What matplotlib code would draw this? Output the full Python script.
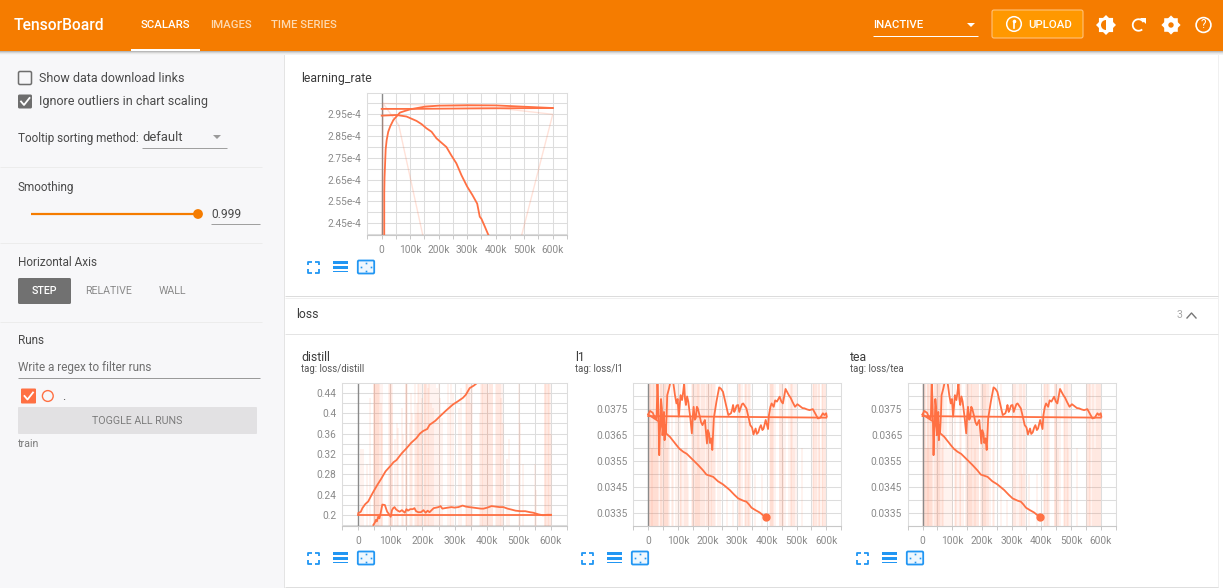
import matplotlib
matplotlib.use("Agg")
import matplotlib.pyplot as plt
from matplotlib.patches import Rectangle, FancyBboxPatch, Circle, Arc, Polygon, RegularPolygon, Wedge

W, H = 1223, 588
plt.rcParams['font.family'] = ['Roboto', 'DejaVu Sans']

# ---------- data (steps in thousands) ----------
lr_rise_x = [9, 9, 10, 12, 14, 17.5, 23, 30, 41, 64, 80, 100, 150, 200, 300, 400, 500, 600]
lr_rise_y = [2.39, 2.588, 2.66, 2.725, 2.79, 2.832, 2.87, 2.895, 2.924, 2.958, 2.965, 2.973, 2.985, 2.99, 2.992, 2.991, 2.985, 2.979]
lr_fall_x = [0, 52, 87, 122, 140, 157, 175, 192, 205, 227, 245, 262, 280, 300, 318, 335, 344, 350, 360, 373, 385]
lr_fall_y = [2.944, 2.947, 2.94, 2.92, 2.905, 2.886, 2.87, 2.84, 2.825, 2.80, 2.76, 2.725, 2.67, 2.618, 2.58, 2.54, 2.48, 2.47, 2.44, 2.40, 2.37]
lr_flat_x = [0, 100, 300, 600]
lr_flat_y = [2.975, 2.975, 2.977, 2.979]
lr_raw_x = [0, 5, 60, 145, 490, 600, 400, 5]
lr_raw_y = [2.3, 3.0, 2.9, 2.39, 2.39, 2.95, 2.98, 3.0]

distill_rise_x = [0, 8, 13, 22, 31, 40, 47, 60, 72, 85, 98, 110, 119, 135, 150, 165, 181, 192, 202, 215, 222, 240, 253, 275, 295, 310, 326, 335, 347, 360, 372]
distill_rise_y = [.204, .207, .214, .222, .227, .238, .246, .260, .272, .286, .295, .304, .308, .321, .331, .342, .351, .360, .365, .369, .377, .385, .393, .406, .417, .423, .430, .436, .449, .454, .460]
distill_wave_x = [47, 52, 55, 58, 62, 66, 70, 75, 83, 90, 95, 101, 105, 109, 113, 117, 123, 129, 136, 145, 150, 155, 162, 170, 175, 180, 187, 195, 203, 210, 216, 222, 230, 235, 243, 250, 256, 262, 270, 280, 290, 300, 312, 325, 335, 345, 358, 370, 382, 390, 402, 415, 428, 440, 452, 465, 478, 490, 505, 520, 535, 545, 560, 575, 588, 600]
distill_wave_y = [.181, .186, .191, .188, .197, .194, .205, .221, .22, .207, .203, .197, .21, .214, .216, .212, .209, .207, .21, .205, .212, .209, .212, .212, .214, .208, .206, .206, .21, .205, .209, .206, .211, .214, .215, .216, .218, .213, .214, .215, .216, .215, .216, .219, .217, .216, .215, .214, .213, .213, .215, .218, .217, .216, .216, .213, .211, .209, .208, .208, .206, .205, .202, .200, .201, .201]
distill_flat_x = [0, 600]
distill_flat_y = [.2, .2]
distill_spike_x = [10, 15, 28, 36, 48, 50, 52, 55, 58, 62, 66, 70, 74, 95, 98, 102, 106, 115, 120, 124, 135, 140, 148, 150, 153, 160, 164, 168, 178, 182, 186, 190, 194, 198, 204, 208, 212, 216, 220, 225, 232, 245, 250, 255, 262, 280, 285, 290, 296, 315, 320, 335, 340, 345, 350, 380, 386, 390, 394, 400, 405, 410, 415, 430, 435, 440, 445, 450, 462, 470, 500, 504, 512, 550, 555, 580, 585, 590, 595, 600]
distill_spike_y = [.33, .33, .30, .43, .47, .47, .47, .47, .47, .47, .47, .42, .38, .47, .47, .47, .42, .35, .38, .37, .41, .36, .47, .47, .47, .38, .44, .40, .47, .42, .47, .47, .47, .43, .47, .47, .47, .45, .47, .42, .41, .45, .47, .43, .39, .47, .42, .47, .44, .41, .45, .47, .47, .45, .42, .40, .47, .47, .47, .47, .44, .47, .47, .47, .47, .47, .43, .38, .31, .35, .47, .38, .30, .30, .25, .47, .47, .47, .47, .36]
distill_band_start = [50, 98, 176, 205, 336, 378, 429, 577]
distill_band_end = [78, 109, 200, 243, 357, 419, 450, 600]
distill_band_top = [.47, .47, .40, .47, .47, .47, .47, .47]

l1_fall_x = [0, 40, 56, 73, 95, 105, 118, 130, 146, 168, 185, 196, 219, 235, 252, 275, 290, 303, 320, 331, 340, 348, 362, 376, 396]
l1_fall_y = [37.3, 37.0, 36.61, 36.44, 36.12, 35.98, 35.86, 35.78, 35.6, 35.35, 35.14, 34.98, 34.89, 34.72, 34.6, 34.38, 34.2, 34.06, 33.97, 33.93, 33.82, 33.7, 33.6, 33.51, 33.32]
l1_flat_x = [0, 600]
l1_flat_y = [37.24, 37.18]
l1_noisy_x = [0, 6, 15, 22, 28, 31, 34, 37, 39, 41, 43, 46, 48, 50, 53, 55, 57, 59, 62, 64, 70, 75, 84, 90, 95, 99, 103, 109, 114, 118, 121, 124, 127, 131, 135, 142, 147, 150, 153, 157, 160, 164, 167, 174, 178, 183, 187, 191, 198, 201, 205, 208, 212, 216, 221, 230, 239, 245, 252, 261, 270, 279, 283, 286, 290, 293, 298, 303, 307, 311, 316, 320, 331, 338, 344, 350, 355, 362, 366, 371, 376, 380, 385, 389, 396, 404, 407, 412, 416, 423, 428, 434, 443, 449, 454, 463, 474, 480, 486, 495, 503, 510, 520, 527, 535, 544, 555, 565, 572, 580, 589, 594, 600, 602]
l1_noisy_y = [37.31, 37.44, 37.37, 37.18, 37.15, 38.57, 37.67, 35.73, 36.6, 36.89, 37.9, 37.54, 36.5, 36.76, 37.4, 36.31, 36.9, 36.57, 37.3, 38.05, 38.31, 38.57, 38.57, 38.05, 37.73, 37.9, 37.22, 38.05, 37.86, 38.2, 38.51, 37.9, 37.67, 38.0, 37.80, 37.15, 36.57, 37.2, 37.60, 37.1, 37.15, 37.6, 37.54, 37.22, 37.0, 36.89, 37.0, 37.09, 36.18, 36.7, 36.57, 36.2, 36.38, 35.93, 37.15, 37.80, 38.35, 38.3, 38.18, 37.73, 37.28, 37.35, 37.5, 37.67, 37.4, 37.47, 37.65, 37.67, 37.4, 37.54, 37.7, 37.73, 37.54, 37.2, 36.89, 36.8, 36.53, 36.76, 36.55, 36.61, 36.8, 36.89, 36.7, 36.76, 37.09, 36.74, 37.28, 37.6, 37.73, 37.60, 37.85, 37.80, 37.99, 37.8, 37.73, 38.29, 38.05, 37.95, 37.80, 37.60, 37.7, 37.64, 37.55, 37.54, 37.5, 37.47, 37.51, 37.3, 37.15, 37.18, 37.35, 37.28, 37.35, 37.22]
l1_spike_x = [2, 5, 8, 11, 14, 17, 20, 23, 26, 29, 32, 40, 44, 48, 52, 56, 60, 64, 68, 80, 85, 92, 100, 108, 112, 125, 130, 135, 148, 152, 156, 160, 164, 168, 172, 176, 180, 188, 196, 202, 206, 210, 214, 222, 236, 242, 265, 285, 305, 310, 325, 330, 335, 340, 360, 385, 410, 414, 418, 422, 445, 450, 455, 475, 480, 485, 490, 520, 555, 560, 565, 575, 580, 585, 590, 596]
l1_spike_y = [39, 39, 39, 36, 36, 39, 39, 36, 39, 39, 39, 39, 39, 39, 39, 39, 39, 36, 39, 39, 36, 39, 39, 39, 36, 39, 39, 35, 39, 39, 39, 35, 39, 39, 39, 36, 39, 39, 39, 39, 39, 39, 39, 39, 36, 39, 39, 34, 39, 39, 39, 39, 35, 39, 35, 35, 39, 39, 39, 39, 39, 39, 36, 39, 39, 39, 36, 36, 39, 39, 39, 39, 36, 39, 39, 39]
l1_band_start = [0, 40, 108, 147, 196, 303, 325, 410, 442, 477, 555, 585]
l1_band_end = [35, 75, 130, 190, 230, 320, 347, 430, 465, 500, 580, 600]
l1_band_top = [39, 39, 36, 39, 39, 39, 39, 39, 39, 39, 39, 39]

lr_ticks = [2.45, 2.55, 2.65, 2.75, 2.85, 2.95]
distill_ticks = [.2, .24, .28, .32, .36, .4, .44]
l1_ticks = [33.5, 34.5, 35.5, 36.5, 37.5]
step_ticks = [0, 100, 200, 300, 400, 500, 600]

# ---------- colours ----------
ORANGE = '#f57c00'
LINE = '#ff7043'
BLUE = '#2196f3'
SIDE = '#f7f7f9'
TXT = '#3a3a3a'
GREY = '#8a8a8a'
LW = 1.3

fig = plt.figure(figsize=(W / 100, H / 100), dpi=100, facecolor='white')
ui = fig.add_axes([0, 0, 1, 1], zorder=0)
ui.set_xlim(0, W)
ui.set_ylim(H, 0)
ui.axis('off')


def box(x0, y0, x1, y1, color, z=1, **kw):
    ui.add_patch(Rectangle((x0, y0), x1 - x0, y1 - y0, facecolor=color, edgecolor='none', zorder=z, **kw))


def label(x, y, s, px=13, color=TXT, ha='left', weight='normal', z=5):
    ui.text(x, y + 1, s, fontsize=px * 0.72, color=color, ha=ha, va='center', fontweight=weight, zorder=z)


def hline(x0, x1, y, color, lw=1.0, z=3):
    ui.plot([x0, x1], [y, y], color=color, lw=lw * 0.72, solid_capstyle='butt', zorder=z)


# ---------- page frame ----------
box(0, 51, 284, H, SIDE)
box(284, 51, 285, H, '#e4e4e4')
box(0, 0, W, 51, ORANGE, z=4)
for i, c in enumerate(['#b9b9b9', '#d4d4d4', '#e8e8e8', '#f3f3f3']):
    box(0, 51 + i, W, 52 + i, c, z=3)

# header
label(14, 25, 'TensorBoard', 15.6, 'white', weight='medium')
label(141, 24.5, 'SCALARS', 11.4, 'white', weight='medium')
label(210, 24.5, 'IMAGES', 11.4, '#fdd9b0', weight='medium')
label(271, 24.5, 'TIME SERIES', 11.4, '#fdd9b0', weight='medium')
box(131, 49, 200, 51, 'white', z=6)
label(873, 24.5, 'INACTIVE', 11.4, 'white', weight='medium')
ui.add_patch(Polygon([[967, 23], [975, 23], [971, 27]], fc='white', ec='none', zorder=6))
hline(873, 978, 35.5, 'white', 1, z=6)
ui.add_patch(FancyBboxPatch((992, 10), 91, 28, boxstyle='round,pad=0,rounding_size=2', fc='#ff9800', ec='#ffc27a', lw=0.8, zorder=5))
ui.add_patch(Circle((1014, 24), 7.3, fc='none', ec='white', lw=1.1, zorder=6))
ui.plot([1014, 1014], [23, 28], color='white', lw=1.2, zorder=6)
ui.plot([1014], [20.6], 'o', ms=1.6, color='white', zorder=6)
label(1028, 23.5, 'UPLOAD', 11.4, 'white', weight='medium', z=6)
# theme icon
ui.add_patch(RegularPolygon((1106, 25), 4, radius=10, orientation=0, fc='white', ec='none', zorder=6))
ui.add_patch(RegularPolygon((1106, 25), 4, radius=10, orientation=0.785, fc='white', ec='none', zorder=6))
ui.add_patch(Wedge((1106, 25), 5, 90, 270, fc=ORANGE, ec='none', zorder=7))
# refresh
ui.add_patch(Arc((1138.5, 25), 11.5, 11.5, theta1=-310, theta2=-30, ec='white', lw=1.3, zorder=6))
ui.add_patch(Polygon([[1140, 18], [1145.5, 18], [1145.5, 23.5]], fc='white', ec='none', zorder=6))
# gear
ui.add_patch(RegularPolygon((1171, 25), 4, radius=9.6, orientation=0, fc='white', ec='none', zorder=6))
ui.add_patch(RegularPolygon((1171, 25), 4, radius=9.6, orientation=0.785, fc='white', ec='none', zorder=6))
ui.add_patch(Circle((1171, 25), 6.8, fc='white', ec='none', zorder=6))
ui.add_patch(Circle((1171, 25), 2.7, fc=ORANGE, ec='none', zorder=7))
# help
ui.add_patch(Circle((1203.5, 25), 7.4, fc='none', ec='white', lw=1.2, zorder=6))
ui.text(1203.5, 25, '?', fontsize=8.5, color='white', ha='center', va='center', zorder=6)

# sidebar
ui.add_patch(FancyBboxPatch((18.5, 71.5), 13, 13, boxstyle='round,pad=0,rounding_size=1.5', fc='none', ec='#6e6e6e', lw=1.1, zorder=5))
label(39, 78, 'Show data download links', 12.5, '#4a4a4a')
ui.add_patch(FancyBboxPatch((18, 94.5), 14, 14, boxstyle='round,pad=0,rounding_size=1.5', fc='#6e6e6e', ec='none', zorder=5))
ui.plot([21, 24, 29.5], [101.5, 105, 98], color='white', lw=1.3, zorder=6)
label(39, 101, 'Ignore outliers in chart scaling', 12.5, '#4a4a4a')
label(18, 137.5, 'Tooltip sorting method:', 11.7, '#4a4a4a')
label(142, 136.5, 'default', 13, '#4a4a4a')
ui.add_patch(Polygon([[213, 135], [221, 135], [217, 139]], fc='#9a9a9a', ec='none', zorder=5))
hline(142, 227, 147.5, '#a0a0a0')
hline(0, 262, 167, '#ececec')
label(18, 186.5, 'Smoothing', 11.7, '#4a4a4a')
hline(31, 198, 214, ORANGE, 2.2)
ui.add_patch(Circle((198, 214), 4.9, fc=ORANGE, ec='none', zorder=5))
label(211, 213, '0.999', 12, '#4a4a4a')
hline(211, 260, 223.5, '#a0a0a0')
hline(0, 262, 243, '#ececec')
label(18, 262, 'Horizontal Axis', 11.7, '#4a4a4a')
ui.add_patch(FancyBboxPatch((18, 278), 53, 26, boxstyle='round,pad=0,rounding_size=1.5', fc='#717171', ec='none', zorder=4))
label(44.5, 290, 'STEP', 10.6, 'white', ha='center', weight='medium')
label(108.5, 290, 'RELATIVE', 10.6, '#8a8a8a', ha='center')
label(172, 290, 'WALL', 10.6, '#8a8a8a', ha='center')
hline(0, 262, 321.5, '#ececec')
label(18, 340, 'Runs', 11.7, '#4a4a4a')
label(18, 366, 'Write a regex to filter runs', 11.7, '#6f6f6f')
hline(18, 260, 377.5, '#9a9a9a')
ui.add_patch(FancyBboxPatch((21, 388.5), 15, 15, boxstyle='round,pad=0,rounding_size=1', fc=LINE, ec='none', zorder=5))
ui.plot([24.5, 27.5, 33], [396, 399.5, 392.5], color='white', lw=1.3, zorder=6)
ui.add_patch(Circle((47.8, 396), 5.4, fc='none', ec=LINE, lw=1.0, zorder=5))
label(62, 395, '.', 11.7, '#4a4a4a')
ui.add_patch(FancyBboxPatch((18, 407), 239, 27, boxstyle='round,pad=0,rounding_size=1', fc='#e2e1e3', ec='none', zorder=4))
label(137, 420, 'TOGGLE ALL RUNS', 10.6, '#7c7c7c', ha='center')
label(18, 443, 'train', 10.6, '#7c7c7c')

# section frames
hline(285, 1218, 296, '#dcdcdc', 1)
hline(285, 1218, 297.5, '#f0f0f0', 1)
hline(285, 1218, 333.5, '#e4e4e4', 1)
hline(285, 1218, 586.5, '#dedede', 1)
box(1218, 52, 1219, H, '#f0f0f0')
label(296, 314, 'loss', 12.2, TXT)
label(1177, 314, '3', 10.5, '#a8a8a8')
ui.plot([1187, 1191.5, 1196], [318, 313, 318], color='#777777', lw=1.0, zorder=5)


def icons(xc, yc):
    x, y = xc - 6, yc - 5.5
    L = 3.6
    for cx, cy, dx, dy in [(x, y, 1, 1), (x + 11, y, -1, 1), (x, y + 11, 1, -1), (x + 11, y + 11, -1, -1)]:
        ui.plot([cx + dx * L, cx, cx], [cy, cy, cy + dy * L], color=BLUE, lw=1.3, solid_capstyle='butt', zorder=5)
    xc2 = xc + 26
    box(xc2 - 7.5, yc - 6, xc2 + 7.5, yc - 2.8, BLUE, z=5)
    box(xc2 - 7.5, yc - 1.4, xc2 + 7.5, yc + 1.8, BLUE, z=5)
    box(xc2 - 7.5, yc + 3.8, xc2 + 7.5, yc + 5.2, BLUE, z=5)
    xc3 = xc + 52
    ui.add_patch(FancyBboxPatch((xc3 - 8.2, yc - 6.5), 16.4, 13, boxstyle='round,pad=0,rounding_size=1.2', fc='#eef7fe', ec=BLUE, lw=1.3, zorder=5))
    for dx, dy in [(0, -3.6), (0, 3.6), (-5, 0), (5, 0)]:
        ui.plot([xc3 + dx], [yc + dy], 's', ms=1.2, mew=0, color=BLUE, zorder=6)


def chart(left, right, x_zero, x_600, top, bottom, ylim, ticks, fmt):
    kpx = (x_600 - x_zero) / 600.0
    ax = fig.add_axes([left / W, 1 - bottom / H, (right - left) / W, (bottom - top) / H], zorder=2)
    ax.patch.set_alpha(0)
    ax.set_xlim((left - x_zero) / kpx, (right - x_zero) / kpx)
    ax.set_ylim(*ylim)
    for s in ['top', 'right', 'left']:
        ax.spines[s].set_color('#dddddd')
        ax.spines[s].set_linewidth(0.75)
    ax.spines['bottom'].set_color('#c8c8c8')
    ax.spines['bottom'].set_linewidth(0.8)
    ax.set_xticks(step_ticks)
    ax.set_xticklabels(['0'] + [f'{v}k' for v in step_ticks[1:]])
    ax.set_xticks(list(range(-50, 651, 100)), minor=True)
    ax.set_yticks(ticks)
    ax.set_yticklabels([fmt(t) for t in ticks])
    gap = ticks[1] - ticks[0]
    minors = [t - gap / 2 for t in ticks] + [ticks[-1] + gap / 2]
    ax.set_yticks([m for m in minors if ylim[0] < m < ylim[1]], minor=True)
    ax.tick_params(axis='x', which='both', length=3.2, width=0.7, color='#c8c8c8', labelsize=7.3, labelcolor=GREY, pad=4)
    ax.tick_params(axis='y', which='both', length=0, labelsize=7.3, labelcolor=GREY, pad=4)
    ax.grid(True, which='both', color='#dddddd', lw=0.75)
    ax.set_axisbelow(True)
    ax.axvline(0, color='#8a8a8a', lw=1.0, zorder=1.5)
    return ax


def fmt_lr(t):
    return f'{t:.2f}e-4'


def fmt_d(t):
    return f'{t:g}'


def fmt_l1(t):
    return f'{t / 1000:.4f}'


def bands(ax, start, end, top, floor):
    for a, b, t in zip(start, end, top):
        ax.bar(a, t - floor, b - a, bottom=floor, align='edge', color=LINE, alpha=0.08, lw=0, zorder=1.2)


# learning rate
label(301, 77.5, 'learning_rate', 12.2, TXT)
ax = chart(367, 567, 381.7, 553, 93, 235, (2.396, 3.048), lr_ticks, fmt_lr)
ax.plot(lr_raw_x, lr_raw_y, color=LINE, alpha=0.2, lw=1.0)
ax.plot(lr_flat_x, lr_flat_y, color=LINE, lw=LW)
ax.plot(lr_rise_x, lr_rise_y, color=LINE, lw=LW)
ax.plot(lr_fall_x, lr_fall_y, color=LINE, lw=LW)
icons(314, 267)

# distill
label(301, 356.5, 'distill', 12.2, TXT)
label(301, 368, 'tag: loss/distill', 9.6, '#555555')
ax = chart(342, 567, 358.3, 551.7, 383, 526, (.179, .459), distill_ticks, fmt_d)
bands(ax, distill_band_start, distill_band_end, distill_band_top, .17)
ax.vlines(distill_spike_x, .17, distill_spike_y, color=LINE, alpha=0.09, lw=1.3, zorder=1.3)
ax.plot(distill_flat_x, distill_flat_y, color=LINE, lw=LW)
ax.plot(distill_rise_x, distill_rise_y, color=LINE, lw=LW)
ax.plot(distill_wave_x, distill_wave_y, color=LINE, lw=LW)
icons(314, 558)

# l1 and tea share the same visible curves
for title, tag, bounds, ix in [('l1', 'tag: loss/l1', (633, 841, 648.3, 826.7), 588),
                               ('tea', 'tag: loss/tea', (907.7, 1115.7, 922.3, 1100.7), 863)]:
    label(bounds[0] - 58 if title == 'tea' else 575, 356.5, title, 12.2, TXT)
    label(bounds[0] - 58 if title == 'tea' else 575, 368, tag, 9.6, '#555555')
    ax = chart(bounds[0], bounds[1], bounds[2], bounds[3], 383, 526, (32.99, 38.52), l1_ticks, fmt_l1)
    bands(ax, l1_band_start, l1_band_end, l1_band_top, 32.9)
    ax.vlines(l1_spike_x, 32.9, l1_spike_y, color=LINE, alpha=0.09, lw=1.3, zorder=1.3)
    ax.plot(l1_flat_x, l1_flat_y, color=LINE, lw=LW)
    ax.plot(l1_noisy_x, l1_noisy_y, color=LINE, lw=LW)
    ax.plot(l1_fall_x, l1_fall_y, color=LINE, lw=LW)
    ax.plot(l1_fall_x[-1:], l1_fall_y[-1:], 'o', color=LINE, ms=5)
    icons(ix, 558)

fig.savefig('out.png', dpi=100, facecolor='white')
